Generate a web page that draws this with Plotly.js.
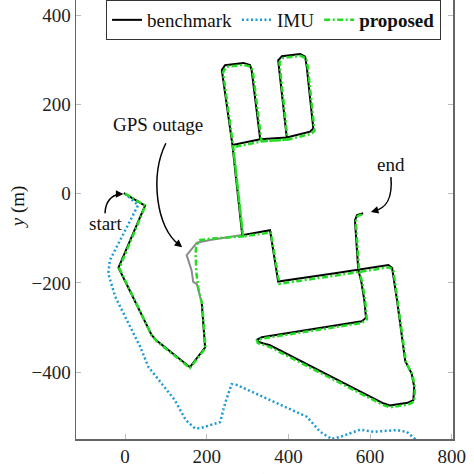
<!DOCTYPE html>
<html>
<head>
<meta charset="utf-8">
<script src="https://cdn.plot.ly/plotly-3.0.1.min.js"></script>
<style>html,body{margin:0;padding:0;background:#fff;}#chart{width:474px;height:474px;}</style>
</head>
<body>
<div id="chart"></div>
<script>
// Benchmark trajectory: before GPS outage
const benchAX = [-3, 49, -16, 65, 78, 159, 196, 188];
const benchAY = [1, -27, -166, -317, -330, -389, -345, -246];
// Benchmark during GPS outage (grey)
const outageX = [188, 184, 176, 167, 163, 151, 176, 208, 287];
const outageY = [-246, -231, -203, -198, -172, -138, -110, -104, -93];
// Benchmark after GPS outage
const benchBX = [287, 263, 237, 245, 290, 306, 310, 331, 396, 375, 384, 429, 441, 445, 461, 453, 396, 331, 263, 287,
                 355, 375, 518, 571, 645, 654, 666, 686, 702, 708, 706, 692, 648, 630,
                 355, 339, 326, 324, 335, 580, 590, 586, 579, 571, 566, 563, 568, 583];
const benchBY = [-93, 109, 277, 288, 293, 288, 277, 122, 126, 299, 308, 313, 307, 284, 146, 139, 126, 122, 109, -93,
                 -82, -197, -178, -170, -160, -167, -239, -375, -404, -433, -463, -469, -475, -469,
                 -340, -336, -332, -327, -322, -286, -278, -240, -200, -170, -110, -60, -48, -44];
// IMU only
const imuX = [0, 32, -37, -41, -24, 8, 37, 57, 98, 122, 149, 171, 184, 233, 245, 261, 274, 404, 445, 478, 506, 527, 576, 608, 665, 690, 710, 725];
const imuY = [0, -26, -149, -179, -231, -291, -343, -388, -437, -463, -508, -526, -526, -512, -470, -427, -429, -482, -500, -534, -550, -545, -529, -534, -530, -534, -550, -580];
// Proposed
const propX = [0, 50, -14, 66, 79, 159, 197, 189, 180, 175, 173, 174, 184, 210, 289,
               265, 240, 248, 290, 309, 313, 334, 398, 378, 387, 430, 444, 448, 464, 456, 398, 334, 265, 289,
               357, 378, 520, 646, 657, 668, 688, 704, 710, 708, 693, 648, 630,
               355, 339, 325, 323, 335, 579, 592, 588, 581, 573, 568, 565, 570, 583];
const propY = [0, -27, -167, -319, -332, -391, -346, -248, -215, -180, -140, -116, -104, -101, -96,
               105, 272, 284, 289, 284, 273, 118, 121, 294, 304, 309, 303, 280, 141, 134, 121, 117, 104, -96,
               -87, -202, -183, -165, -171, -243, -379, -407, -436, -466, -473, -479, -473,
               -344, -339, -335, -329, -325, -290, -282, -240, -200, -172, -110, -62, -50, -46];

const xTicks = [0, 200, 400, 600, 800];
const yTicks = [-400, -200, 0, 200, 400];

const serif = 'Liberation Serif, Times New Roman, serif';
const GREEN = '#22dd22';
const BLUE = '#1a9ad6';

const traces = [
  {x: benchAX, y: benchAY, mode: 'lines', name: 'benchmark', legendrank: 1,
   line: {color: '#000', width: 2}},
  {x: outageX, y: outageY, mode: 'lines', name: 'outage', showlegend: false,
   line: {color: '#8a8a8a', width: 2}},
  {x: benchBX, y: benchBY, mode: 'lines', name: 'benchmark2', showlegend: false,
   line: {color: '#000', width: 2}},
  {x: imuX, y: imuY, mode: 'lines', name: 'IMU', legendrank: 2,
   line: {color: BLUE, width: 2.5, dash: '2px,2.5px'}},
  {x: propX, y: propY, mode: 'lines', name: '<b>proposed</b>', legendrank: 3,
   line: {color: GREEN, width: 2.5, dash: '6px,2.5px,2px,2.5px'}}
];

const layout = {
  width: 474, height: 474,
  margin: {l: 76, r: 21, t: 0, b: 35},
  paper_bgcolor: '#fff', plot_bgcolor: '#fff',
  font: {family: serif, size: 19, color: '#222'},
  showlegend: true,
  legend: {orientation: 'h', x: 0.524, xanchor: 'center', y: 1, yanchor: 'top',
           bgcolor: '#fff', bordercolor: '#333', borderwidth: 1,
           font: {family: serif, size: 19, color: '#111'}},
  xaxis: {range: [-120, 803], tickvals: xTicks, ticks: 'inside', ticklen: 5, tickcolor: '#bbb',
          showline: true, linecolor: '#666', linewidth: 1.5, mirror: false, showgrid: false, zeroline: false,
          tickfont: {family: serif, size: 19, color: '#222'}},
  yaxis: {range: [-550, 434], tickvals: yTicks, ticks: 'inside', ticklen: 5, tickcolor: '#bbb',
          showline: true, linecolor: '#666', linewidth: 1.5, mirror: 'ticks', showgrid: false, zeroline: false,
          tickfont: {family: serif, size: 19, color: '#222'}},
  shapes: [
    {type: 'path', xref: 'x', yref: 'y', path: 'M -49,-44 Q -47,-6 -12,-1', line: {color: '#000', width: 1.5}},
    {type: 'path', xref: 'x', yref: 'y', path: 'M 100,113 C 61,41 76,-77 132,-114', line: {color: '#000', width: 1.5}},
    {type: 'path', xref: 'x', yref: 'y', path: 'M 651,37 C 656,-15 637,-33 610,-39', line: {color: '#000', width: 1.5}}
  ],
  annotations: [
    {x: 80, y: 154, xref: 'x', yref: 'y', text: 'GPS outage', showarrow: false, font: {family: serif, size: 19, color: '#111'}},
    {x: -49, y: -68, xref: 'x', yref: 'y', text: 'start', showarrow: false, font: {family: serif, size: 19, color: '#111'}},
    {x: 651, y: 66, xref: 'x', yref: 'y', text: 'end', showarrow: false, font: {family: serif, size: 19, color: '#111'}},
    {x: -4, y: -1, xref: 'x', yref: 'y', ax: -8, ay: 0, text: '', showarrow: true, arrowhead: 2, arrowsize: 1, arrowwidth: 1.5, arrowcolor: '#000'},
    {x: 140, y: -120, xref: 'x', yref: 'y', ax: -5, ay: -4, text: '', showarrow: true, arrowhead: 2, arrowsize: 1, arrowwidth: 1.5, arrowcolor: '#000'},
    {x: 602, y: -41, xref: 'x', yref: 'y', ax: 7, ay: -2, text: '', showarrow: true, arrowhead: 2, arrowsize: 1, arrowwidth: 1.5, arrowcolor: '#000'},
    {x: 0.5, y: 0, xref: 'paper', yref: 'paper', yanchor: 'top', yshift: -29, text: '<i>x</i> (m)', showarrow: false,
     font: {family: serif, size: 19, color: '#111'}},
    {x: 0, y: 0.528, xref: 'paper', yref: 'paper', xanchor: 'center', xshift: -58, textangle: -90, text: '<i>y</i> (m)', showarrow: false,
     font: {family: serif, size: 19, color: '#111'}}
  ]
};

Plotly.newPlot('chart', traces, layout, {displayModeBar: false, staticPlot: true});
</script>
</body>
</html>
